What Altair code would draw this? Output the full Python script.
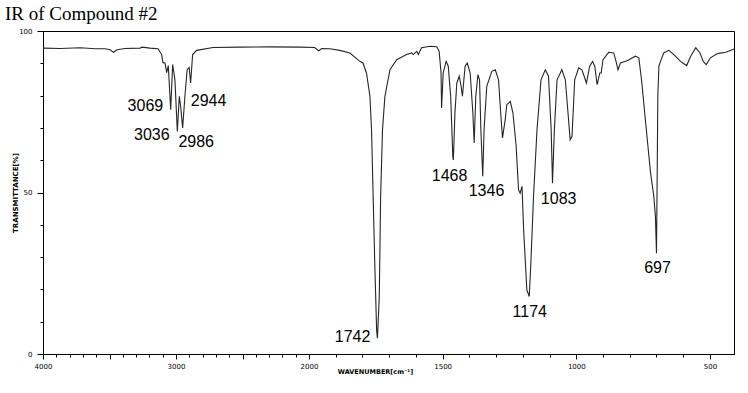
import altair as alt
import pandas as pd

# Spectrum trace (wavenumber cm-1, transmittance %)
wavenumber = [4000, 3870, 3720, 3608, 3533, 3495, 3470, 3443, 3383, 3270, 3255, 3195, 3135,
              3108, 3098, 3083, 3070, 3058, 3040, 3025, 3008, 2990, 2975, 2965, 2950, 2933,
              2916, 2901, 2890, 2875, 2845, 2721, 2520, 2295, 2070, 1979, 1964, 1952, 1922,
              1885, 1847, 1810, 1798, 1785, 1772, 1766, 1760, 1754, 1747, 1744, 1737, 1732,
              1725, 1716, 1697, 1672, 1635, 1616, 1610, 1597, 1591, 1579, 1547, 1522, 1513,
              1506, 1504, 1498, 1487, 1479, 1470, 1462, 1460, 1454, 1447, 1438, 1431, 1426,
              1416, 1408, 1397, 1387, 1382, 1376, 1368, 1362, 1357, 1350, 1345, 1335, 1316,
              1303, 1291, 1282, 1276, 1266, 1260, 1247, 1237, 1225, 1216, 1210, 1203, 1197,
              1185, 1176, 1170, 1160, 1147, 1132, 1116, 1104, 1094, 1089, 1082, 1072, 1054,
              1041, 1031, 1023, 1016, 1006, 991, 979, 962, 950, 939, 931, 922, 912, 907, 900,
              879, 860, 850, 844, 835, 810, 779, 766, 756, 744, 732, 722, 710, 704, 700, 697,
              695, 691, 685, 673, 654, 635, 610, 587, 572, 553, 537, 525, 514, 498, 472, 441,
              416, 410]
transmittance = [94.7, 94.6, 94.8, 94.5, 94.5, 94.2, 93.4, 94.2, 94.6, 94.7, 95.0, 94.7, 94.5,
                 92.7, 90.2, 90.1, 87.1, 89.3, 75.6, 89.6, 84.9, 68.9, 79.8, 76.7, 70.0, 79.8,
                 88.0, 88.7, 83.9, 92.7, 94.0, 94.9, 95.0, 95.1, 95.0, 94.9, 93.9, 94.6, 94.5,
                 94.0, 93.2, 90.6, 90.1, 87.0, 79.8, 69.4, 48.8, 28.2, 7.4, 4.9, 17.8, 48.8,
                 69.4, 79.8, 88.0, 91.1, 92.7, 93.2, 92.7, 93.7, 92.7, 94.8, 95.3, 95.1, 93.7,
                 87.0, 76.2, 87.0, 90.6, 89.1, 79.8, 61.2, 60.1, 74.6, 83.9, 86.0, 82.9, 79.8,
                 89.1, 90.1, 87.0, 74.6, 65.3, 79.8, 86.5, 84.9, 69.4, 55.0, 69.4, 82.9, 87.5,
                 88.0, 84.9, 73.6, 66.9, 72.5, 77.2, 78.2, 74.6, 64.3, 50.8, 49.8, 51.9, 38.4,
                 19.8, 17.8, 28.1, 48.8, 69.4, 84.9, 88.0, 86.0, 69.4, 52.9, 69.4, 84.9, 88.0,
                 84.9, 74.6, 66.3, 67.4, 84.9, 88.6, 88.0, 83.9, 89.1, 90.6, 89.1, 83.4, 87.0,
                 87.0, 91.1, 93.4, 93.2, 90.1, 88.0, 90.1, 90.8, 92.2, 91.7, 84.9, 74.6, 64.3,
                 56.0, 48.8, 42.6, 31.2, 59.2, 79.8, 89.1, 90.6, 93.2, 94.0, 92.7, 90.6, 89.3,
                 92.2, 94.8, 93.2, 90.6, 89.6, 91.7, 93.0, 93.4, 94.2, 94.4]

# Peak annotations: text and where it sits (in data units)
peak_labels = ["3069", "2944", "3036", "2986", "1742", "1468", "1346", "1174", "1083", "697"]
label_wn = [3230, 2755, 3182, 2848, 1837, 1474, 1336, 1174, 1066, 696]
label_t = [76.9, 78.2, 67.9, 65.6, 5.4, 55.2, 50.5, 13.0, 47.9, 26.6]

# Axis ticks
x_labelled = [4000, 3000, 2000, 1500, 1000, 500]
x_ticks = list(range(500, 4001, 100))
y_labelled = [0, 50, 100]
y_ticks = list(range(0, 101, 10))

spec = pd.DataFrame({"wn": wavenumber, "t": transmittance})
ann = pd.DataFrame({"label": peak_labels, "wn": label_wn, "t": label_t})

W, H = 691, 323
xscale = alt.Scale(domain=[4000, 2000, 410], range=[0, 266, W], nice=False, zero=False)
yscale = alt.Scale(domain=[0, 100], nice=False, zero=False)

axis_font = "DejaVu Sans"
x_axis = alt.Axis(
    values=x_ticks,
    tickCount=200,
    labelExpr="indexof(" + str(x_labelled) + ", datum.value) >= 0 ? datum.label : ''",
    format="d",
    tickSize=alt.condition("datum.value % 500 == 0", alt.value(5), alt.value(3)),
    tickColor="black",
    domainColor="black",
    labelFont=axis_font, labelFontSize=7, labelColor="black", labelPadding=3,
    labelOverlap=False, labelFlush=False,
    grid=False,
    title="WAVENUMBER[cm⁻¹]", titleFont=axis_font, titleFontSize=6.5, titleFontWeight="bold",
    titleColor="black", titleX=332, titleY=14,
)
y_axis = alt.Axis(
    values=y_ticks,
    tickCount=200,
    labelExpr="indexof(" + str(y_labelled) + ", datum.value) >= 0 ? datum.label : ''",
    format="d",
    tickSize=alt.condition("datum.value % 50 == 0", alt.value(6), alt.value(3)),
    tickColor="black",
    domainColor="black",
    labelFont=axis_font, labelFontSize=7, labelColor="black", labelPadding=5,
    labelOverlap=False, labelFlush=False,
    grid=False,
    title="TRANSMITTANCE[%]", titleFont=axis_font, titleFontSize=7, titleFontWeight="bold",
    titleColor="black", titlePadding=0,
)

line = alt.Chart(spec).mark_line(color="#262626", strokeWidth=1.1).encode(
    x=alt.X("wn:Q", scale=xscale, axis=x_axis),
    y=alt.Y("t:Q", scale=yscale, axis=y_axis),
    order=alt.Order("wn:Q"),
)

text = alt.Chart(ann).mark_text(
    font="Liberation Sans", fontSize=16, color="black", align="center", baseline="middle"
).encode(
    x=alt.X("wn:Q", scale=xscale),
    y=alt.Y("t:Q", scale=yscale),
    text="label:N",
)

chart = alt.layer(line, text).properties(
    width=W, height=H,
    title=alt.TitleParams(
        text="IR of Compound #2", anchor="start", frame="group", font="Liberation Serif",
        fontSize=19, fontWeight="normal", color="black", dx=-38, dy=22, offset=10,
        baseline="alphabetic",
    ),
    autosize=alt.AutoSizeParams(type="none"),
    padding={"left": 43, "top": 31, "right": 14, "bottom": 39},
    background="white",
).configure_view(stroke="black", strokeWidth=1)

chart.save("out.html", embed_options={"renderer": "svg", "actions": False})
